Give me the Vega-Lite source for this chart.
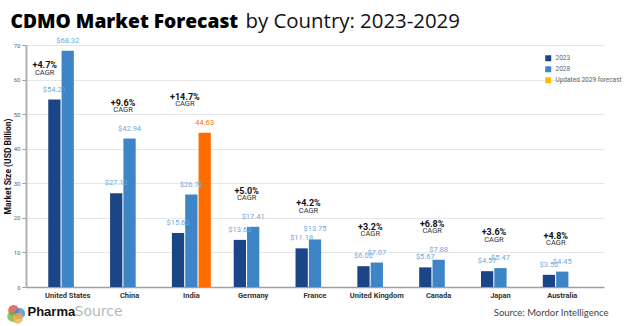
{
  "$schema": "https://vega.github.io/schema/vega-lite/v6.json",
  "width": 578,
  "height": 242,
  "autosize": {"type": "none"},
  "padding": {"left": 26, "top": 45, "right": 20, "bottom": 39},
  "background": "white",
  "config": {"view": {"stroke": null}, "font": "Roboto"},
  "datasets": {
    "bars": [
      {"country": "United States", "series": "2023", "value": 54.21},
      {"country": "United States", "series": "2028", "value": 68.32},
      {"country": "China", "series": "2023", "value": 27.12},
      {"country": "China", "series": "2028", "value": 42.94},
      {"country": "India", "series": "2023", "value": 15.63},
      {"country": "India", "series": "2028", "value": 26.73},
      {"country": "India", "series": "Updated 2029 forecast", "value": 44.63},
      {"country": "Germany", "series": "2023", "value": 13.63},
      {"country": "Germany", "series": "2028", "value": 17.41},
      {"country": "France", "series": "2023", "value": 11.18},
      {"country": "France", "series": "2028", "value": 13.75},
      {"country": "United Kingdom", "series": "2023", "value": 6.02},
      {"country": "United Kingdom", "series": "2028", "value": 7.07},
      {"country": "Canada", "series": "2023", "value": 5.67},
      {"country": "Canada", "series": "2028", "value": 7.88},
      {"country": "Japan", "series": "2023", "value": 4.57},
      {"country": "Japan", "series": "2028", "value": 5.47},
      {"country": "Australia", "series": "2023", "value": 3.52},
      {"country": "Australia", "series": "2028", "value": 4.45}
    ],
    "cagr": [
      {"country": "United States", "cagr": "+4.7%"},
      {"country": "China", "cagr": "+9.6%"},
      {"country": "India", "cagr": "+14.7%"},
      {"country": "Germany", "cagr": "+5.0%"},
      {"country": "France", "cagr": "+4.2%"},
      {"country": "United Kingdom", "cagr": "+3.2%"},
      {"country": "Canada", "cagr": "+6.8%"},
      {"country": "Japan", "cagr": "+3.6%"},
      {"country": "Australia", "cagr": "+4.8%"}
    ]
  },
  "data": {"name": "bars"},
  "layer": [
    {
      "mark": {"type": "bar"},
      "encoding": {
        "x": {
          "field": "country", "type": "nominal",
          "scale": {"domain": ["United States", "China", "India", "Germany", "France", "United Kingdom", "Canada", "Japan", "Australia"], "paddingInner": 0.37, "paddingOuter": 0.36},
          "axis": {"orient": "bottom", "title": "Source: Mordor Intelligence", "labelAngle": 0, "labelFont": "Roboto", "labelFontWeight": "bold", "labelFontSize": 7.5, "labelColor": "#333333", "labelPadding": 4, "ticks": false, "domainColor": "#a0a0a0", "domainWidth": 1.5, "titleFont": "Lato", "titleFontSize": 9.5, "titleFontWeight": "normal", "titleColor": "#444444", "titleAnchor": "end", "titleAlign": "right", "titleBaseline": "middle", "titleX": 582, "titleY": 25}
        },
        "xOffset": {"field": "series", "type": "nominal", "scale": {"domain": ["2023", "2028", "Updated 2029 forecast"], "paddingInner": 0.08}},
        "y": {
          "field": "value", "type": "quantitative",
          "scale": {"domain": [0, 70], "nice": false},
          "axis": {"orient": "left", "title": "Market Size (USD Billion)", "values": [0, 10, 20, 30, 40, 50, 60, 70], "grid": true, "gridColor": "#e6e6e6", "domainColor": "#b0b0b0", "domainWidth": 2, "tickColor": "#999999", "tickSize": 4, "labelFontSize": 6, "labelColor": "#666666", "labelPadding": 2, "titleFont": "Roboto", "titleFontSize": 8.5, "titleFontWeight": "bold", "titleColor": "#111111", "titlePadding": 1}
        },
        "color": {
          "condition": {"test": "datum.series === 'Updated 2029 forecast'", "value": "#ff6d01"},
          "field": "series", "type": "nominal",
          "scale": {"domain": ["2023", "2028", "Updated 2029 forecast"], "range": ["#1c4587", "#3d85c6", "#fbbc04"]},
          "legend": {"orient": "none", "legendX": 519, "legendY": 10, "title": null, "symbolType": "square", "symbolSize": 36, "symbolStrokeWidth": 0, "labelFont": "Roboto", "labelFontSize": 6.5, "labelColor": "#666666", "rowPadding": 4, "labelOffset": 4}
        }
      }
    },
    {
      "mark": {"type": "text", "baseline": "middle", "dy": -10, "fontSize": 7.5, "font": "Roboto"},
      "encoding": {
        "x": {
          "field": "country", "type": "nominal",
          "scale": {"domain": ["United States", "China", "India", "Germany", "France", "United Kingdom", "Canada", "Japan", "Australia"], "paddingInner": 0.37, "paddingOuter": 0.36},
          "axis": {"orient": "top", "labels": false, "ticks": false, "domain": false, "grid": false, "title": "CDMO Market Forecast", "titleFont": "Open Sans", "titleFontSize": 19.2, "titleFontWeight": 800, "titleColor": "#000000", "titleAlign": "left", "titleBaseline": "alphabetic", "titleX": -16, "titleY": -18}
        },
        "xOffset": {"field": "series", "type": "nominal", "scale": {"domain": ["2023", "2028", "Updated 2029 forecast"], "paddingInner": 0.08}},
        "y": {
          "field": "value", "type": "quantitative",
          "scale": {"domain": [0, 70], "nice": false},
          "axis": {"orient": "right", "labels": false, "ticks": false, "domain": false, "grid": false, "title": "Pharma", "titleAngle": 0, "titleFont": "Liberation Sans", "titleFontSize": 13, "titleFontWeight": "bold", "titleColor": "#111111", "titleAlign": "left", "titleBaseline": "alphabetic", "titleX": -577, "titleY": 270.5}
        },
        "text": {
          "condition": {"test": "datum.series === 'Updated 2029 forecast'", "field": "value", "type": "quantitative", "format": ".2f"},
          "field": "value", "type": "quantitative", "format": "$.2f"
        },
        "color": {
          "condition": {"test": "datum.series === 'Updated 2029 forecast'", "value": "#ff6d01"},
          "value": "#6fa8dc"
        }
      }
    },
    {
      "transform": [
        {"joinaggregate": [{"op": "max", "field": "value", "as": "maxValue"}], "groupby": ["country"]},
        {"filter": "datum.series === '2028' && datum.country !== 'United States'"},
        {"lookup": "country", "from": {"data": {"name": "cagr"}, "key": "country", "fields": ["cagr"]}}
      ],
      "mark": {"type": "text", "baseline": "middle", "dx": -6.5, "dy": -36, "fontSize": 9, "fontWeight": "bold", "font": "Roboto", "color": "#111111"},
      "encoding": {
        "x": {
          "field": "country", "type": "nominal",
          "scale": {"domain": ["United States", "China", "India", "Germany", "France", "United Kingdom", "Canada", "Japan", "Australia"], "paddingInner": 0.37, "paddingOuter": 0.36},
          "axis": {"orient": "top", "labels": false, "ticks": false, "domain": false, "grid": false, "title": "by Country: 2023-2029", "titleFont": "Open Sans", "titleFontSize": 20.4, "titleFontWeight": "normal", "titleColor": "#111111", "titleAlign": "left", "titleBaseline": "alphabetic", "titleX": 219, "titleY": -18}
        },
        "y": {
          "field": "maxValue", "type": "quantitative",
          "scale": {"domain": [0, 70], "nice": false},
          "axis": {"orient": "right", "labels": false, "ticks": false, "domain": false, "grid": false, "title": "Source", "titleAngle": 0, "titleFont": "DejaVu Sans", "titleFontSize": 14, "titleFontWeight": "normal", "titleColor": "#b8b8b8", "titleAlign": "left", "titleBaseline": "alphabetic", "titleX": -530, "titleY": 270.5}
        },
        "text": {"field": "cagr", "type": "nominal"}
      }
    },
    {
      "transform": [
        {"joinaggregate": [{"op": "max", "field": "value", "as": "maxValue"}], "groupby": ["country"]},
        {"filter": "datum.series === '2028' && datum.country !== 'United States'"}
      ],
      "mark": {"type": "text", "baseline": "middle", "dx": -6.5, "dy": -28.5, "fontSize": 7.5, "font": "Roboto", "color": "#333333", "text": "CAGR"},
      "encoding": {
        "x": {
          "field": "country", "type": "nominal",
          "scale": {"domain": ["United States", "China", "India", "Germany", "France", "United Kingdom", "Canada", "Japan", "Australia"], "paddingInner": 0.37, "paddingOuter": 0.36},
          "axis": {"orient": "top", "labels": false, "ticks": false, "domain": false, "grid": false, "title": "●", "titleFont": "DejaVu Sans", "titleFontSize": 14, "titleColor": "#e0574f", "titleOpacity": 0.85, "titleAlign": "center", "titleBaseline": "middle", "titleX": -13, "titleY": 264}
        },
        "y": {
          "field": "maxValue", "type": "quantitative",
          "scale": {"domain": [0, 70], "nice": false},
          "axis": {"orient": "right", "labels": false, "ticks": false, "domain": false, "grid": false, "title": "●", "titleAngle": 0, "titleFont": "DejaVu Sans", "titleFontSize": 14, "titleColor": "#4a86c8", "titleOpacity": 0.8, "titleAlign": "center", "titleBaseline": "middle", "titleX": -585, "titleY": 267}
        }
      }
    },
    {
      "transform": [
        {"filter": "datum.series === '2023' && datum.country === 'United States'"},
        {"lookup": "country", "from": {"data": {"name": "cagr"}, "key": "country", "fields": ["cagr"]}}
      ],
      "mark": {"type": "text", "baseline": "middle", "dx": -23, "dy": -34.6, "fontSize": 9, "fontWeight": "bold", "font": "Roboto", "color": "#111111"},
      "encoding": {
        "x": {
          "field": "country", "type": "nominal",
          "scale": {"domain": ["United States", "China", "India", "Germany", "France", "United Kingdom", "Canada", "Japan", "Australia"], "paddingInner": 0.37, "paddingOuter": 0.36},
          "axis": {"orient": "top", "labels": false, "ticks": false, "domain": false, "grid": false, "title": "●", "titleFont": "DejaVu Sans", "titleFontSize": 14, "titleColor": "#6ab04c", "titleOpacity": 0.8, "titleAlign": "center", "titleBaseline": "middle", "titleX": -14, "titleY": 270}
        },
        "y": {
          "field": "value", "type": "quantitative",
          "scale": {"domain": [0, 70], "nice": false},
          "axis": {"orient": "right", "labels": false, "ticks": false, "domain": false, "grid": false, "title": "●", "titleAngle": 0, "titleFont": "DejaVu Sans", "titleFontSize": 14, "titleColor": "#f2b33d", "titleOpacity": 0.8, "titleAlign": "center", "titleBaseline": "middle", "titleX": -587, "titleY": 272}
        },
        "text": {"field": "cagr", "type": "nominal"}
      }
    },
    {
      "transform": [
        {"filter": "datum.series === '2023' && datum.country === 'United States'"}
      ],
      "mark": {"type": "text", "baseline": "middle", "dx": -23, "dy": -27, "fontSize": 7.5, "font": "Roboto", "color": "#333333", "text": "CAGR"},
      "encoding": {
        "x": {
          "field": "country", "type": "nominal",
          "scale": {"domain": ["United States", "China", "India", "Germany", "France", "United Kingdom", "Canada", "Japan", "Australia"], "paddingInner": 0.37, "paddingOuter": 0.36},
          "axis": null
        },
        "y": {
          "field": "value", "type": "quantitative",
          "scale": {"domain": [0, 70], "nice": false},
          "axis": null
        }
      }
    }
  ],
  "resolve": {"axis": {"x": "independent", "y": "independent"}}
}
